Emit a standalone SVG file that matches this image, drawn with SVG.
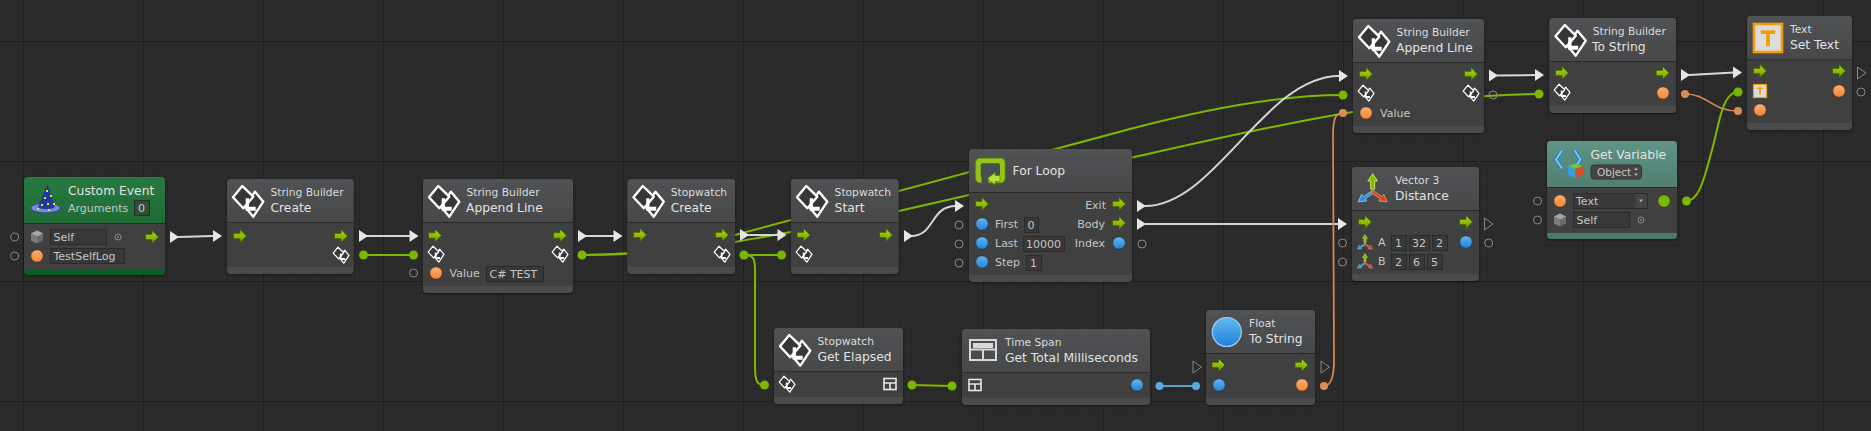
<svg xmlns="http://www.w3.org/2000/svg" width="1871" height="431" viewBox="0 0 1871 431">
<style>
text{font-family:"DejaVu Sans","Liberation Sans",sans-serif;fill:#c6c6c6;font-size:11px}
.t1{font-size:12.3px;fill:#e2e2e2}
.t2{font-size:10.7px;fill:#dcdcdc}
.r{text-anchor:end}
.f{fill:#383838;stroke:#2b2b2b;stroke-width:1}
.foot{fill:#4b4b4b}
.body{fill:#3f3f3f}
.hd{fill:url(#hd)}
.line{fill:#2a2a2a}
.w{fill:none;stroke-width:2;stroke-linecap:round;stroke-linejoin:round}
.wg{stroke:#7fb800}
.wo{stroke:#d88a52;stroke-width:1.7}
.wb{stroke:#5a9fd0}
.ww{stroke:#d6d6d6}
.dg{fill:#7ab800}
.dob{fill:#d98c55}
.db{fill:#5ea8dc}
.tri{fill:#e6e6e6}
.open{fill:none;stroke:#8a8a8a;stroke-width:1}
.target{fill:none;stroke:#8c8c8c;stroke-width:1}
.node{filter:url(#sh)}
</style>
<defs>
<pattern id="minor" patternUnits="userSpaceOnUse" x="23" y="41" width="12" height="12"><rect width="12" height="1" fill="#272727"/><rect width="1" height="12" fill="#272727"/></pattern>
<pattern id="major" patternUnits="userSpaceOnUse" x="23" y="41" width="120" height="120"><rect width="120" height="1" fill="#202020"/><rect width="1" height="120" fill="#202020"/></pattern>
<filter id="sh" x="-10%" y="-10%" width="120%" height="120%"><feDropShadow dx="0" dy="1" stdDeviation="1.5" flood-color="#000" flood-opacity=".5"/></filter>
<linearGradient id="hd" x1="0" y1="0" x2="0" y2="1"><stop offset="0" stop-color="#505254"/><stop offset="1" stop-color="#46484a"/></linearGradient>
<linearGradient id="hg" x1="0" y1="0" x2="0" y2="1"><stop offset="0" stop-color="#287a40"/><stop offset="1" stop-color="#1f6a34"/></linearGradient>
<linearGradient id="hv" x1="0" y1="0" x2="0" y2="1"><stop offset="0" stop-color="#5e9486"/><stop offset="1" stop-color="#4f7d70"/></linearGradient>
<linearGradient id="ga" x1="0" y1="0" x2="0" y2="1"><stop offset="0" stop-color="#b4dc10"/><stop offset="1" stop-color="#6a9a00"/></linearGradient>
<linearGradient id="go" x1="0" y1="0" x2="0" y2="1"><stop offset="0" stop-color="#ffb070"/><stop offset="1" stop-color="#f58232"/></linearGradient>
<linearGradient id="gb" x1="0" y1="0" x2="0" y2="1"><stop offset="0" stop-color="#62b8f0"/><stop offset="1" stop-color="#1f82d8"/></linearGradient>
<g id="arr"><path d="M-6.5,-2.7H0V-6.5L6.5,0L0,6.5V2.7H-6.5Z" fill="url(#ga)" stroke="#3f5a00" stroke-width=".8"/></g>
<circle id="po" r="6.3" fill="url(#go)" stroke="#2e2e2e" stroke-width=".8"/>
<circle id="pb" r="6.3" fill="url(#gb)" stroke="#2e2e2e" stroke-width=".8"/>
<g id="sb"><g fill="#363636" stroke="#fff" stroke-width="2.4" stroke-linejoin="round"><path d="M7,-9.300L15.300,.7L5.300,15.700L-3,5.700Z"/><path d="M-15,-3.700L-5.700,-15L5.300,-4.300L-4.700,7.300Z"/></g><path d="M-2.300,-2.700H1V5.700H7.700V9.700H-2.300Z" fill="#fff"/></g>
<g id="ts" fill="none" stroke="#e8e8e8" stroke-width="1.6"><rect x="-6" y="-5.500" width="12" height="11"/><path d="M-6,-1H6M0,-1V5.500"/></g>
<g id="cube"><path d="M0,-6.500L6,-3.500V3.500L0,6.500L-6,3.500V-3.500Z" fill="#6a6a6a"/><path d="M0,-6.500L6,-3.500L0,-.5L-6,-3.500Z" fill="#a8a8a8"/><path d="M0,-.5V6.500L-6,3.500V-3.500Z" fill="#7c7c7c"/></g>
<g id="v3"><path d="M-1.800,1V-6H-4.200L0,-12.500L4.200,-6H1.800V1Z" fill="#88bb00" stroke="#d6ec80" stroke-width=".7"/><path d="M0,2L-8,7.500L-9.600,5.400L-12.500,12L-5.400,11.200L-6.600,9.400L1.200,4Z" fill="#2a8fdc" stroke="#9fd4f8" stroke-width=".7"/><path d="M0,2L8,7.500L9.600,5.400L12.500,12L5.400,11.200L6.600,9.400L-1.200,4Z" fill="#d8401c" stroke="#f0a080" stroke-width=".7"/></g>
<g id="te"><rect x="-6.500" y="-6.500" width="13" height="13" fill="#dcdcdc" stroke="#f59e0b" stroke-width="1.200"/><path d="M-3.300,-3.600H3.300V-1.900H.9V3.800H-.9V-1.900H-3.300Z" fill="#f59e0b"/></g>
</defs>
<rect width="1871" height="431" fill="#2b2b2b"/>
<rect width="1871" height="431" fill="url(#minor)"/>
<rect width="1871" height="431" fill="url(#major)"/>

<g id="connectors">
<path class="w ww" d="M178,237L213,236"/><path class="tri" d="M170,231L179,237L170,243Z"/><path class="tri" d="M213,230L222,236L213,242Z"/>
<path class="w ww" d="M366,236H410"/><path class="tri" d="M359,230L368,236L359,242Z"/><path class="tri" d="M409.500,230L418.500,236L409.500,242Z"/>
<path class="w wg" d="M364,255H414"/><circle class="dg" cx="363.500" cy="255" r="4.500"/><circle class="dg" cx="413.500" cy="255" r="4.500"/>
<path class="w ww" d="M586,236H614"/><path class="tri" d="M578,230L587,236L578,242Z"/><path class="tri" d="M613.500,230L622.500,236L613.500,242Z"/>
<path class="w wg" d="M582,255C640,254 680,249 735,235L1130,129C1210,108 1280,95 1343,95"/>
<path class="w wg" d="M582,255C640,255 690,250 735,242S850,222 899,211L1130,158C1250,131 1400,95 1539,94"/>
<circle class="dg" cx="582" cy="255" r="4.500"/><circle class="dg" cx="1343" cy="95" r="4.500"/><circle class="dg" cx="1539" cy="94" r="4.500"/>
<path class="w ww" d="M748,235H778"/><path class="tri" d="M740,229L749,235L740,241Z"/><path class="tri" d="M777.500,229L786.500,235L777.500,241Z"/>
<path class="w wg" d="M744,255H781"/><path class="w wg" d="M744,255C757,255 755,262 755,285V365C755,382 757,385 764.500,385"/>
<circle class="dg" cx="744" cy="255" r="4.500"/><circle class="dg" cx="781.500" cy="255" r="4.500"/><circle class="dg" cx="764.500" cy="385" r="4.500"/>
<path class="w ww" d="M911,236C935,236 930,206 956,206"/><path class="tri" d="M904,230L913,236L904,242Z"/><path class="tri" d="M955,200L964,206L955,212Z"/>
<path class="w ww" d="M1145,206C1215,206 1265,76 1339,76"/><path class="tri" d="M1137,200L1146,206L1137,212Z"/><path class="tri" d="M1339,70L1348,76L1339,82Z"/>
<path class="w ww" d="M1145,224H1339"/><path class="tri" d="M1137,218L1146,224L1137,230Z"/><path class="tri" d="M1338,218L1347,224L1338,230Z"/>
<path class="w ww" d="M1497,75.500L1536,75"/><path class="tri" d="M1489,69.500L1498,75.500L1489,81.500Z"/><path class="tri" d="M1535,69L1544,75L1535,81Z"/>
<path class="w ww" d="M1689,75L1734,72.500"/><path class="tri" d="M1681,69L1690,75L1681,81Z"/><path class="tri" d="M1733,66.500L1742,72.500L1733,78.500Z"/>
<path class="w wo" d="M1685,94C1708,94 1712,111 1738,111"/><circle class="dob" cx="1685" cy="94" r="4"/><circle class="dob" cx="1738" cy="111" r="4"/>
<path class="w wg" d="M1686,201C1700,201 1705,175 1712,150S1722,92 1738,92"/><circle class="dg" cx="1686.500" cy="201" r="4.500"/><circle class="dg" cx="1738" cy="92" r="4.500"/>
<path class="w wo" d="M1324,386C1331,386 1334,375 1334,360L1333,135C1333,118 1336,113 1343,113"/><circle class="dob" cx="1324" cy="386" r="4"/><circle class="dob" cx="1343" cy="113" r="4"/>
<path class="w wb" d="M1160,386H1196"/><circle class="db" cx="1159.500" cy="386" r="4"/><circle class="db" cx="1196" cy="386" r="4"/>
<path class="w wg" d="M912,385L952,386"/><circle class="dg" cx="912" cy="385" r="4.500"/><circle class="dg" cx="952" cy="386" r="4.500"/>
<circle class="open" cx="1493" cy="95" r="4"/>
</g>

<g id="custom-event">
<circle class="open" cx="14.700" cy="237" r="4"/><circle class="open" cx="14.700" cy="256" r="4"/>
<g class="node"><rect x="24" y="177" width="141" height="98" rx="4" fill="#0c5c26"/><rect x="24" y="177" width="141" height="50" rx="4" fill="url(#hg)"/><rect class="body" x="24" y="224" width="141" height="45"/><rect class="line" x="24" y="223" width="141" height="1"/></g>
<g id="wizard"><ellipse cx="45.500" cy="208" rx="15" ry="5" fill="#6f8fd0" stroke="#30408a"/><path d="M38,207C42,210 51,210 55,207L47.500,184Z" fill="#1f3a9a"/><path fill="#f2e020" d="M46,190h2v2h-2zM44,197h2v2h-2zM50,195h2v2h-2zM41,204h2v2h-2zM47,203h2v2h-2zM53,203h2v2h-2zM37,208h2v2h-2zM48,209h2v2h-2z"/></g>
<text class="t1" x="68" y="195">Custom Event</text>
<text x="68" y="212">Arguments</text>
<rect class="f" x="134.500" y="200.500" width="15" height="15" fill-opacity=".6"/><text x="138" y="212">0</text>
<use href="#cube" x="37" y="237"/><rect class="f" x="50.500" y="229.500" width="56" height="15"/><text x="53.500" y="241">Self</text>
<circle class="target" cx="118" cy="237" r="3"/><circle cx="118" cy="237" r="1" fill="#8c8c8c"/>
<use href="#arr" x="152" y="237"/>
<use href="#po" x="37" y="256"/><rect class="f" x="50.500" y="248.500" width="74" height="15"/><text x="53.500" y="260">TestSelfLog</text>
</g>

<g id="sb-create">
<g class="node"><rect class="foot" x="227" y="179" width="126.500" height="95" rx="4"/><rect class="hd" x="227" y="179" width="126.500" height="46" rx="4"/><rect class="body" x="227" y="223" width="126.500" height="44"/><rect class="line" x="227" y="222" width="126.500" height="1"/></g>
<use href="#sb" x="248" y="201"/>
<text class="t2" x="270.500" y="195.500">String Builder</text><text class="t1" x="270.500" y="212">Create</text>
<use href="#arr" x="240" y="236"/><use href="#arr" x="341" y="236"/>
<use href="#sb" transform="translate(341 255) scale(.52)"/>
</g>

<g id="sb-append-1">
<circle class="open" cx="413.500" cy="273" r="4"/>
<g class="node"><rect class="foot" x="423" y="179" width="150" height="114" rx="4"/><rect class="hd" x="423" y="179" width="150" height="46" rx="4"/><rect class="body" x="423" y="223" width="150" height="63"/><rect class="line" x="423" y="222" width="150" height="1"/></g>
<use href="#sb" x="444" y="201"/>
<text class="t2" x="466.500" y="195.500">String Builder</text><text class="t1" x="466" y="212">Append Line</text>
<use href="#arr" x="435" y="235.500"/><use href="#arr" x="560" y="235.500"/>
<use href="#sb" transform="translate(436 254) scale(.52)"/><use href="#sb" transform="translate(560 254) scale(.52)"/>
<use href="#po" x="436" y="273"/><text x="449.500" y="277">Value</text>
<rect class="f" x="486.500" y="266.500" width="57" height="15"/><text x="489.500" y="278">C# TEST</text>
</g>

<g id="sw-create">
<g class="node"><rect class="foot" x="627.500" y="179" width="107.500" height="95" rx="4"/><rect class="hd" x="627.500" y="179" width="107.500" height="46" rx="4"/><rect class="body" x="627.500" y="223" width="107.500" height="44"/><rect class="line" x="627.500" y="222" width="107.500" height="1"/></g>
<use href="#sb" x="648.500" y="201"/>
<text class="t2" x="670.700" y="195.500">Stopwatch</text><text class="t1" x="670.700" y="212">Create</text>
<use href="#arr" x="640" y="235"/><use href="#arr" x="722" y="235"/>
<use href="#sb" transform="translate(722 254) scale(.52)"/>
</g>

<g id="sw-start">
<g class="node"><rect class="foot" x="791" y="179" width="107.500" height="95" rx="4"/><rect class="hd" x="791" y="179" width="107.500" height="46" rx="4"/><rect class="body" x="791" y="223" width="107.500" height="44"/><rect class="line" x="791" y="222" width="107.500" height="1"/></g>
<use href="#sb" x="812" y="201"/>
<text class="t2" x="834.600" y="195.500">Stopwatch</text><text class="t1" x="834.600" y="212">Start</text>
<use href="#arr" x="803.600" y="235"/><use href="#arr" x="886" y="235"/>
<use href="#sb" transform="translate(804 254) scale(.52)"/>
</g>

<g id="for-loop">
<circle class="open" cx="959" cy="225" r="4"/><circle class="open" cx="959" cy="244" r="4"/><circle class="open" cx="959" cy="263" r="4"/><circle class="open" cx="1142" cy="244" r="4"/>
<g class="node"><rect class="foot" x="969" y="149" width="163" height="133" rx="4"/><rect class="hd" x="969" y="149" width="163" height="46" rx="4"/><rect class="body" x="969" y="193" width="163" height="82"/><rect class="line" x="969" y="192" width="163" height="1"/></g>
<g id="loop-icon"><rect x="975.700" y="158.300" width="29.300" height="24.500" rx="4.500" fill="#93c418" stroke="#6f9a08" stroke-width=".7"/><rect x="980.700" y="163.300" width="19.300" height="14.500" rx="2" fill="#4a4c4e"/><rect x="981.500" y="176.500" width="7" height="7.500" fill="#4a4c4e"/><path d="M987.500,178.500L995,172.500V175.500H1000V181.500H995V185Z" fill="#b6e038" stroke="#5f8600" stroke-width=".7"/></g>
<text class="t1" x="1012.500" y="175">For Loop</text>
<use href="#arr" x="982" y="204"/><text class="r" x="1106" y="209">Exit</text><use href="#arr" x="1119" y="204"/>
<use href="#pb" x="982" y="224"/><text x="995" y="228">First</text><rect class="f" x="1024.500" y="217.500" width="14" height="15"/><text x="1027.500" y="229">0</text>
<text class="r" x="1105" y="228">Body</text><use href="#arr" x="1119" y="223"/>
<use href="#pb" x="982" y="243"/><text x="995" y="247">Last</text><rect class="f" x="1023.500" y="236.500" width="41" height="15"/><text x="1026" y="248">10000</text>
<text class="r" x="1105" y="247">Index</text><use href="#pb" x="1119" y="243"/>
<use href="#pb" x="982" y="262"/><text x="995" y="266">Step</text><rect class="f" x="1026.500" y="255.500" width="15" height="15"/><text x="1030" y="267">1</text>
</g>

<g id="sb-append-2">
<g class="node"><rect class="foot" x="1353" y="19" width="131" height="114" rx="4"/><rect class="hd" x="1353" y="19" width="131" height="46" rx="4"/><rect class="body" x="1353" y="63" width="131" height="63"/><rect class="line" x="1353" y="62" width="131" height="1"/></g>
<use href="#sb" x="1374" y="41"/>
<text class="t2" x="1396.600" y="35.500">String Builder</text><text class="t1" x="1396" y="52">Append Line</text>
<use href="#arr" x="1366" y="74"/><use href="#arr" x="1471" y="74"/>
<use href="#sb" transform="translate(1366 93) scale(.52)"/><use href="#sb" transform="translate(1471 93) scale(.52)"/>
<use href="#po" x="1366" y="113"/><text x="1380" y="117">Value</text>
</g>

<g id="sb-to-string">
<g class="node"><rect class="foot" x="1549.500" y="18" width="126.500" height="95" rx="4"/><rect class="hd" x="1549.500" y="18" width="126.500" height="46" rx="4"/><rect class="body" x="1549.500" y="62" width="126.500" height="44"/><rect class="line" x="1549.500" y="61" width="126.500" height="1"/></g>
<use href="#sb" x="1570.500" y="40"/>
<text class="t2" x="1592.700" y="34.500">String Builder</text><text class="t1" x="1592" y="51">To String</text>
<use href="#arr" x="1562" y="73"/><use href="#arr" x="1662.600" y="73"/>
<use href="#sb" transform="translate(1562 92) scale(.52)"/><use href="#po" x="1663" y="93"/>
</g>

<g id="set-text">
<path class="open" d="M1857.500,67L1866,73L1857.500,79Z"/><circle class="open" cx="1861" cy="92" r="4"/>
<g class="node"><rect class="foot" x="1747" y="16" width="105" height="114" rx="4"/><rect class="hd" x="1747" y="16" width="105" height="46" rx="4"/><rect class="body" x="1747" y="60" width="105" height="63"/><rect class="line" x="1747" y="59.500" width="105" height="1"/></g>
<use href="#te" transform="translate(1768 38) scale(2.150)"/>
<text class="t2" x="1790" y="32.500">Text</text><text class="t1" x="1790" y="48.500">Set Text</text>
<use href="#arr" x="1760" y="71"/><use href="#arr" x="1839" y="71"/>
<use href="#te" x="1760" y="91"/><use href="#po" x="1839" y="91"/><use href="#po" x="1760" y="110"/>
</g>

<g id="distance">
<path class="open" d="M1484.500,218L1493,224L1484.500,230Z"/><circle class="open" cx="1488.700" cy="243" r="4"/><circle class="open" cx="1342.500" cy="243" r="4"/><circle class="open" cx="1342.500" cy="262" r="4"/>
<g class="node"><rect class="foot" x="1352" y="167" width="127" height="114" rx="4"/><rect class="hd" x="1352" y="167" width="127" height="46" rx="4"/><rect class="body" x="1352" y="211" width="127" height="63"/><rect class="line" x="1352" y="210" width="127" height="1"/></g>
<use href="#v3" transform="translate(1372.700 188) scale(1.150)"/>
<text class="t2" x="1395" y="184">Vector 3</text><text class="t1" x="1395" y="200">Distance</text>
<use href="#arr" x="1365" y="222"/><use href="#arr" x="1466" y="222"/>
<use href="#v3" transform="translate(1365 242) scale(.6)"/><text x="1378" y="246">A</text>
<rect class="f" x="1391.500" y="235.500" width="15" height="15"/><text x="1395" y="247">1</text>
<rect class="f" x="1409.500" y="235.500" width="20" height="15"/><text x="1412" y="247">32</text>
<rect class="f" x="1432.500" y="235.500" width="15" height="15"/><text x="1436" y="247">2</text>
<use href="#pb" x="1466" y="242"/>
<use href="#v3" transform="translate(1365 261) scale(.6)"/><text x="1378" y="265">B</text>
<rect class="f" x="1391.500" y="254.500" width="15" height="15"/><text x="1395" y="266">2</text>
<rect class="f" x="1409.500" y="254.500" width="15" height="15"/><text x="1413" y="266">6</text>
<rect class="f" x="1427.500" y="254.500" width="15" height="15"/><text x="1431" y="266">5</text>
</g>

<g id="get-variable">
<circle class="open" cx="1537.500" cy="201" r="4"/><circle class="open" cx="1537.500" cy="220" r="4"/>
<g class="node"><rect x="1547" y="141" width="130" height="98" rx="4" fill="#4c7a6c"/><rect x="1547" y="141" width="130" height="50" rx="4" fill="url(#hv)"/><rect class="body" x="1547" y="188" width="130" height="45"/><rect class="line" x="1547" y="187" width="130" height="1"/></g>
<g id="var-icon"><path d="M1562,150.500L1556,159.500L1562,168.500M1574.500,150.500L1580.500,159.500L1574.500,168.500" fill="none" stroke="#2c7ec4" stroke-width="4"/><path d="M1562,150.500L1556,159.500L1562,168.500M1574.500,150.500L1580.500,159.500L1574.500,168.500" fill="none" stroke="#7cc4f4" stroke-width="2"/><path d="M1568,166L1576,163.500L1583,166L1575,169Z" fill="#6cc83c"/><path d="M1568,166L1575,169V178L1568,175Z" fill="#3c9ce0"/><path d="M1575,169L1583,166V175L1575,178Z" fill="#d85028"/></g>
<text class="t1" x="1590.500" y="159">Get Variable</text>
<rect x="1591" y="165" width="50.500" height="14" rx="3" fill="#454545" stroke="#333"/><text x="1597" y="176" style="font-size:10.500px">Object</text>
<path d="M1634,170L1636,167.500L1638,170ZM1634,173.500L1636,176L1638,173.500Z" fill="#b0b0b0"/>
<use href="#po" x="1560" y="201"/><rect class="f" x="1573.500" y="193.500" width="74" height="15"/><rect x="1635.500" y="194" width="11.500" height="14" fill="#444"/><path d="M1639,199.500h4l-2,3z" fill="#aaa"/><text x="1576" y="205">Text</text>
<circle cx="1664" cy="201" r="6.300" fill="#7cb800" stroke="#2e2e2e" stroke-width=".8"/>
<use href="#cube" x="1560" y="220"/><rect class="f" x="1573.500" y="212.500" width="56" height="15"/><text x="1576.500" y="224">Self</text>
<circle class="target" cx="1641" cy="220" r="3"/><circle cx="1641" cy="220" r="1" fill="#8c8c8c"/>
</g>

<g id="get-elapsed">
<g class="node"><rect class="foot" x="774" y="328" width="129" height="76" rx="4"/><rect class="hd" x="774" y="328" width="129" height="46" rx="4"/><rect class="body" x="774" y="372" width="129" height="25"/><rect class="line" x="774" y="371" width="129" height="1"/></g>
<use href="#sb" x="795" y="350"/>
<text class="t2" x="817.500" y="344.500">Stopwatch</text><text class="t1" x="817.500" y="361">Get Elapsed</text>
<use href="#sb" transform="translate(787 384) scale(.52)"/><use href="#ts" x="890" y="384"/>
</g>

<g id="total-ms">
<g class="node"><rect class="foot" x="962" y="329" width="188" height="76" rx="4"/><rect class="hd" x="962" y="329" width="188" height="46" rx="4"/><rect class="body" x="962" y="373" width="188" height="25"/><rect class="line" x="962" y="372" width="188" height="1"/></g>
<g id="ts-icon" fill="none" stroke="#d8d8d8" stroke-width="2"><rect x="970" y="340" width="26" height="20"/><rect x="973" y="343" width="20" height="5" fill="#d8d8d8" stroke="none"/><path d="M970,349.500H996M983,349.500V360"/></g>
<text class="t2" x="1005" y="345.500">Time Span</text><text class="t1" x="1005" y="362">Get Total Milliseconds</text>
<use href="#ts" x="975" y="385"/><use href="#pb" x="1137" y="385"/>
</g>

<g id="float-to-string">
<path class="open" d="M1193,361L1201.500,367L1193,373Z"/><path class="open" d="M1321,361L1329.500,367L1321,373Z"/>
<g class="node"><rect class="foot" x="1206" y="310" width="109" height="95" rx="4"/><rect class="hd" x="1206" y="310" width="109" height="46" rx="4"/><rect class="body" x="1206" y="354" width="109" height="44"/><rect class="line" x="1206" y="353" width="109" height="1"/></g>
<circle cx="1226.800" cy="332" r="14.500" fill="url(#gb)" stroke="#9ed4f8" stroke-width="1.200"/>
<text class="t2" x="1249" y="326.500">Float</text><text class="t1" x="1249" y="343">To String</text>
<use href="#arr" x="1218.500" y="365"/><use href="#arr" x="1301.500" y="365"/>
<use href="#pb" x="1219" y="385"/><use href="#po" x="1302" y="385"/>
</g>
</svg>
